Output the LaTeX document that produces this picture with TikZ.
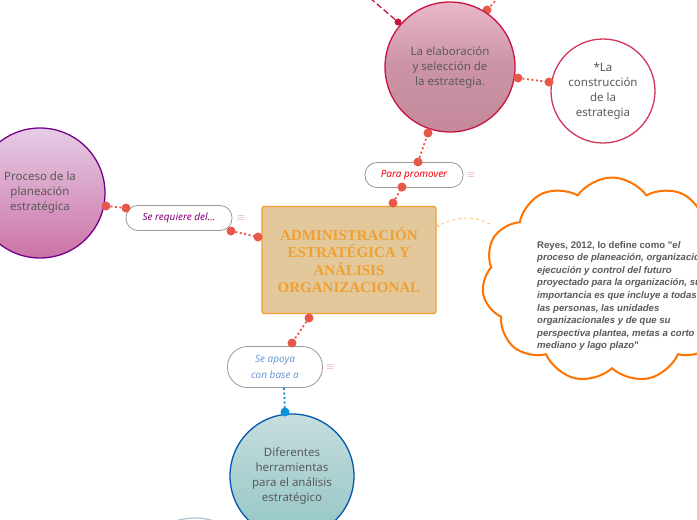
\documentclass[tikz,border=0pt]{standalone}
\usepackage{fontspec}
\setmainfont{Noto Sans}
\newfontfamily\serifb{Liberation Serif}
\newfontfamily\arialf{Liberation Sans}
\usetikzlibrary{shapes.symbols}
\definecolor{conn}{HTML}{E8584A}
\definecolor{ctext}{HTML}{5A5A5A}
\definecolor{pinktop}{HTML}{E8B8CA}
\definecolor{pinkbot}{HTML}{C48A9C}
\definecolor{crim}{HTML}{C8143C}
\definecolor{maintan}{HTML}{E2C89A}
\definecolor{mainor}{HTML}{F0A030}
\tikzset{
  con/.style={conn,line width=1.8pt,dash pattern=on 2pt off 2.5pt},
  dotc/.style={circle,fill=conn,inner sep=0pt,minimum size=9pt},
  pill/.style={draw=gray!80,rounded corners=12pt,fill=white,line width=0.8pt,font=\itshape\fontsize{10}{14}\selectfont\bfseries,align=center},
  ham/.style={text=conn!80,font=\normalsize},
  circ/.style={circle,line width=1.3pt,align=center,text=ctext,font=\fontsize{11.5}{15}\selectfont},
}
\begin{document}
\begin{tikzpicture}[x=1pt,y=-1pt]
\useasboundingbox (0,0) rectangle (697,520);
\begin{scope}
\clip (0,0) rectangle (697,520);
\draw[color=crim,line width=1.3pt,dash pattern=on 6pt off 3pt] (370,-2) -- (398,22);
\node[circle,fill=crim,inner sep=0pt,minimum size=7pt] (d0) at (398,22) {};
\draw[con] (498,-2) -- (487,10);
\node[dotc] (d00) at (487,10) {};
\node[circ,draw=crim,top color=pinktop,bottom color=pinkbot,middle color=pinkbot!80!pinktop,minimum size=130pt] (pink) at (450,67) {La elaboración\\y selección de\\la estrategia.};
\node[circ,draw=crim!85,fill=white,minimum size=104pt] (white) at (603,91) {*La\\construcción\\de la\\estrategia};
\node[circ,draw=violet!90!blue,top color=violet!20,bottom color=violet!40!pink,minimum size=130pt] (purple) at (40,193) {Proceso de la\\planeación\\estratégica};
\node[circ,draw=blue!50!cyan!70!black,top color=cyan!25!gray!35,bottom color=cyan!30!gray!65,minimum size=124pt] (blue) at (292,476) {Diferentes\\herramientas\\para el análisis\\estratégico};
\draw[cyan!30!gray!60,line width=1.2pt] (195,580) circle (62pt);
\node[cloud,draw=orange!90!red,line width=2pt,fill=white,cloud puffs=11,cloud puff arc=110,aspect=1.15,minimum width=260pt,minimum height=205pt] (cloud) at (612,280) {};
\node[text=ctext,font=\arialf\bfseries\fontsize{9.6}{12.6}\selectfont,align=left,anchor=north west,inner sep=0pt] (ct) at (537,241)
{Reyes, 2012, lo define como "\textit{el}\\\textit{proceso de planeación, organización,}\\\textit{ejecución y control del futuro}\\\textit{proyectado para la organización, su}\\\textit{importancia es que incluye a todas}\\\textit{las personas, las unidades}\\\textit{organizacionales y de que su}\\\textit{perspectiva plantea, metas a corto}\\\textit{mediano y lago plazo}"};
\end{scope}
\node[draw=mainor,line width=1.2pt,fill=maintan,rounded corners=2pt,minimum width=174pt,minimum height=107pt,align=center,text=mainor,font=\serifb\bfseries\fontsize{15}{17.5}\selectfont] (main) at (349,260) {ADMINISTRACIÓN\\ESTRATÉGICA Y\\ANÁLISIS\\ORGANIZACIONAL};
\node[pill,minimum width=98pt,minimum height=25pt,text=red!80!purple] (p1) at (414,175) {Para promover};
\node[pill,minimum width=106pt,minimum height=25pt,text=violet!90!purple] (p2) at (179,218) {Se requiere del...};
\node[pill,minimum width=95pt,minimum height=41pt,rounded corners=20pt,text=cyan!50!blue!60,font=\itshape\fontsize{10}{16}\selectfont] (p3) at (275,367) {Se apoya\\con base a};
\node[ham] (h1) at (471,175) {$\equiv$};
\node[ham] (h2) at (241,218) {$\equiv$};
\node[ham] (h3) at (330,367) {$\equiv$};
\coordinate (a1) at (393,203); \coordinate (a2) at (402,187);
\draw[con] (a1) -- (a2);
\node[dotc] at (a1) {}; \node[dotc] at (a2) {};
\coordinate (b1) at (418,162); \coordinate (b2) at (428,133);
\draw[con] (b1) -- (b2); \node[dotc] at (b1) {}; \node[dotc] at (b2) {};
\coordinate (c1) at (518,78); \coordinate (c2) at (549,82);
\draw[con] (c1) -- (c2); \node[dotc] at (c1) {}; \node[dotc] at (c2) {};
\coordinate (e1) at (231,231); \coordinate (e2) at (258,237);
\draw[con] (e1) -- (e2); \node[dotc] at (e1) {}; \node[dotc] at (e2) {};
\coordinate (f1) at (106,206); \coordinate (f2) at (126,208);
\draw[con] (f1) -- (f2); \node[dotc] at (f1) {}; \node[dotc] at (f2) {};
\coordinate (g1) at (309,318); \coordinate (g2) at (292,343);
\draw[con] (g1) -- (g2); \node[dotc] at (g1) {}; \node[dotc] at (g2) {};
\coordinate (k1) at (284,388); \coordinate (k2) at (285,412);
\draw[cyan!80!blue,line width=1.8pt,dash pattern=on 2pt off 2.5pt] (k1) -- (k2);
\node[circle,fill=cyan!80!blue,inner sep=0pt,minimum size=9pt] at (k2) {};
\draw[orange!60,dashed,->,line width=0.7pt] (490,224) .. controls (470,214) and (455,218) .. (437,226);
\end{tikzpicture}
\end{document}
